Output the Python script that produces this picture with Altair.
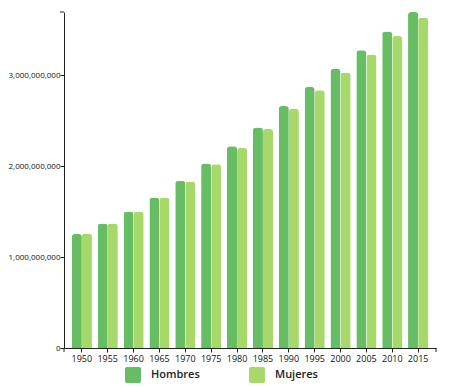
import altair as alt
import pandas as pd

years = ["1950", "1955", "1960", "1965", "1970", "1975", "1980",
         "1985", "1990", "1995", "2000", "2005", "2010", "2015"]
hombres = [1.253e9, 1.37e9, 1.50e9, 1.656e9, 1.84e9, 2.03e9, 2.22e9,
           2.425e9, 2.66e9, 2.87e9, 3.07e9, 3.275e9, 3.48e9, 3.695e9]
mujeres = [1.26e9, 1.37e9, 1.50e9, 1.656e9, 1.83e9, 2.02e9, 2.20e9,
           2.407e9, 2.63e9, 2.835e9, 3.03e9, 3.227e9, 3.43e9, 3.633e9]
series = ["Hombres", "Mujeres"]
colors = ["#66bd63", "#a6d96a"]

rows = []
for i, y in enumerate(years):
    rows.append({"year": y, "sexo": series[0], "value": hombres[i]})
    rows.append({"year": y, "sexo": series[1], "value": mujeres[i]})
df = pd.DataFrame(rows)

W, H = 372, 336
ymax = max(max(hombres), max(mujeres))

rounded = ("M -0.75,-1 L 0.75,-1 Q 1,-1 1,-0.75 L 1,0.75 Q 1,1 0.75,1 "
           "L -0.75,1 Q -1,1 -1,0.75 L -1,-0.75 Q -1,-1 -0.75,-1 Z")

bars = alt.Chart(df).mark_bar(cornerRadiusTopLeft=3, cornerRadiusTopRight=3).encode(
    x=alt.X("year:N", sort=years, title=None,
            scale=alt.Scale(paddingInner=0.22, paddingOuter=0.30),
            axis=alt.Axis(labelAngle=0, tickSize=4, labelPadding=2, grid=False,
                          labelFont="Open Sans", labelFontSize=9, labelColor="#111",
                          domainColor="#222", tickColor="#222")),
    xOffset=alt.XOffset("sexo:N", sort=series,
                        scale=alt.Scale(domain=series, paddingInner=0, paddingOuter=0)),
    y=alt.Y("value:Q", title=None,
            scale=alt.Scale(domain=[0, ymax], nice=False),
            axis=alt.Axis(values=[0, 1e9, 2e9, 3e9], format=",d", tickSize=4,
                          labelPadding=0, grid=False, labelFont="Open Sans",
                          labelFontSize=8, labelColor="#111",
                          domainColor="#222", tickColor="#222")),
    color=alt.Color("sexo:N", sort=series,
                    scale=alt.Scale(domain=series, range=colors),
                    legend=alt.Legend(orient="none", legendX=61, legendY=355,
                                      direction="horizontal", title=None,
                                      symbolType=rounded, symbolSize=256,
                                      symbolStrokeWidth=0, labelFont="Open Sans",
                                      labelFontSize=11, labelFontWeight=600,
                                      labelColor="#222", labelOffset=10,
                                      columnPadding=49, padding=0)),
)

one = alt.Data(values=[{"a": 1}])
tick_top = alt.Chart(one).mark_rule(color="#222").encode(
    x=alt.value(-4), x2=alt.value(0), y=alt.value(0))
tick_left = alt.Chart(one).mark_rule(color="#222").encode(
    x=alt.value(0), y=alt.value(H), y2=alt.value(H + 4))
tick_right = alt.Chart(one).mark_rule(color="#222").encode(
    x=alt.value(W), y=alt.value(H), y2=alt.value(H + 4))

chart = alt.layer(bars, tick_top, tick_left, tick_right).properties(
    width=W, height=H,
    autosize=alt.AutoSizeParams(type="none"),
    padding={"left": 56, "top": 4, "right": 20, "bottom": 37},
).configure_view(stroke=None)

chart.save("out.html", embed_options={"renderer": "svg", "actions": False})
